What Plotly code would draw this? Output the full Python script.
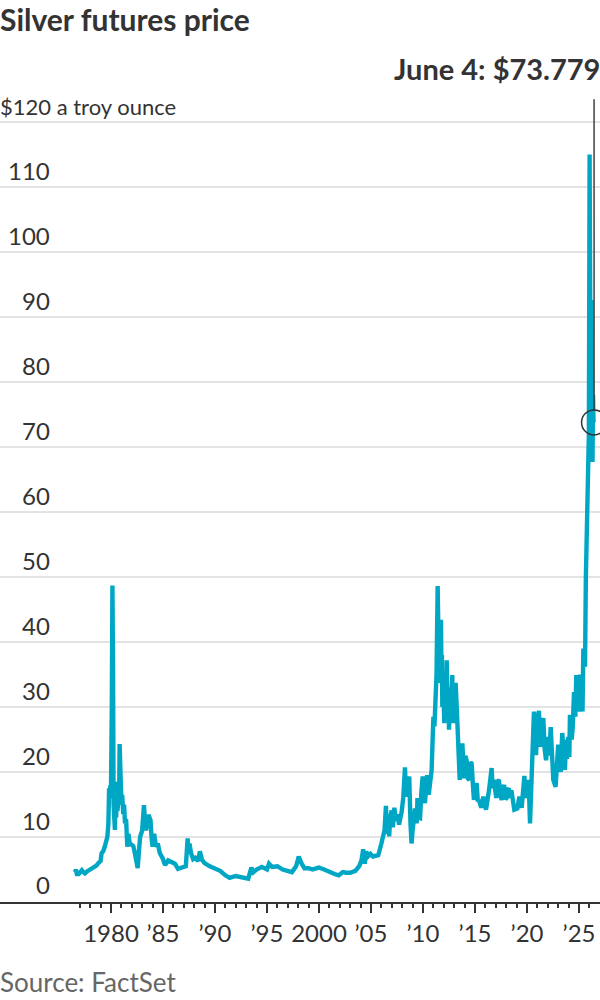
import plotly.graph_objects as go

# decimal year
years = [1976.55, 1976.62, 1976.72, 1976.9, 1977.05, 1977.2, 1977.35, 1977.5, 1977.7, 1977.9,
         1978.05, 1978.2, 1978.4, 1978.6, 1978.8, 1979.0, 1979.1, 1979.25, 1979.4, 1979.5,
         1979.65, 1979.75, 1979.82, 1979.88, 1979.95, 1980.0, 1980.08, 1980.14, 1980.2, 1980.25,
         1980.32, 1980.38, 1980.44, 1980.5, 1980.56, 1980.62, 1980.72, 1980.78, 1980.83, 1980.9, 1980.96,
         1981.0, 1981.08, 1981.18, 1981.26, 1981.35, 1981.45, 1981.57, 1981.68, 1981.8, 1982.0,
         1982.15, 1982.3, 1982.45, 1982.57, 1982.7, 1982.8, 1983.0, 1983.1, 1983.17, 1983.25, 1983.37,
         1983.6, 1983.8, 1983.9, 1984.0, 1984.15, 1984.33, 1984.5, 1984.7, 1984.95, 1985.2, 1985.5, 1985.8,
         1986.15, 1986.45, 1986.8, 1987.2, 1987.37, 1987.45, 1987.55, 1987.7, 1987.9, 1988.1, 1988.37, 1988.55,
         1988.75, 1989.0, 1989.5, 1990.0, 1990.5, 1991.0, 1991.4, 1992.0, 1992.5, 1993.0,
         1993.2, 1993.5, 1993.7, 1994.0, 1994.5, 1995.0, 1995.2, 1995.5, 1996.0, 1996.5,
         1997.0, 1997.4, 1997.8, 1998.05, 1998.3, 1998.6, 1999.0, 1999.4, 1999.8, 2000.0,
         2000.5, 2001.0, 2001.5, 2001.9, 2002.3, 2002.6, 2003.0, 2003.5, 2003.9, 2004.1,
         2004.25, 2004.4, 2004.55, 2004.7, 2004.95, 2005.2, 2005.7, 2006.0, 2006.3, 2006.44,
         2006.52, 2006.65, 2006.75, 2006.85, 2006.99, 2007.1, 2007.25, 2007.4, 2007.55, 2007.7,
         2007.95, 2008.1, 2008.27, 2008.33, 2008.47, 2008.57, 2008.68, 2008.8, 2008.9, 2009.0,
         2009.12, 2009.23, 2009.39, 2009.47, 2009.55, 2009.72, 2009.85, 2009.97, 2010.19, 2010.4,
         2010.55, 2010.67, 2010.83, 2011.0, 2011.1, 2011.2, 2011.3, 2011.41, 2011.47, 2011.52,
         2011.56, 2011.62, 2011.73, 2011.78, 2011.82, 2011.86, 2011.95, 2012.05, 2012.12, 2012.2,
         2012.28, 2012.36, 2012.43, 2012.5, 2012.58, 2012.66, 2012.74, 2012.82, 2012.88, 2012.97,
         2013.05, 2013.14, 2013.27, 2013.4, 2013.47, 2013.53, 2013.62, 2013.7, 2013.78, 2013.87,
         2013.97, 2014.08, 2014.2, 2014.32, 2014.45, 2014.57, 2014.68, 2014.8, 2014.9, 2015.03,
         2015.16, 2015.27, 2015.38, 2015.6, 2015.8, 2016.06, 2016.2, 2016.35, 2016.6, 2016.7,
         2016.8, 2017.05, 2017.18, 2017.3, 2017.43, 2017.57, 2017.7, 2017.8, 2017.93, 2018.05,
         2018.15, 2018.25, 2018.38, 2018.5, 2018.78, 2019.07, 2019.27, 2019.49, 2019.75, 2019.85,
         2019.97, 2020.16, 2020.29, 2020.38, 2020.48, 2020.58, 2020.67, 2020.77, 2020.87, 2021.0,
         2021.15, 2021.22, 2021.32, 2021.45, 2021.57, 2021.7, 2021.83, 2022.05, 2022.14, 2022.28,
         2022.4, 2022.53, 2022.75, 2022.9, 2023.0, 2023.12, 2023.24, 2023.39, 2023.52, 2023.65,
         2023.75, 2023.85, 2023.97, 2024.07, 2024.13, 2024.3, 2024.4, 2024.52, 2024.65, 2024.74,
         2024.83, 2024.93, 2025.03, 2025.15, 2025.26, 2025.34, 2025.42, 2025.58, 2025.66, 2025.74,
         2025.85, 2025.95, 2026.02, 2026.07, 2026.13, 2026.2, 2026.3, 2026.35, 2026.4, 2026.45]
prices = [4.6, 5.0, 4.3, 4.3, 4.6, 4.9, 4.6, 4.4, 4.7, 4.9,
          5.0, 5.3, 5.4, 5.6, 6.0, 6.3, 7.5, 7.8, 8.5, 9.2,
          10.0, 12.0, 17.5, 16.0, 18.0, 17.0, 30.0, 48.7, 36.0, 15.0,
          12.0, 11.1, 18.0, 13.0, 18.5, 14.0, 16.0, 15.0, 24.3, 16.0, 20.0,
          15.5, 16.5, 13.5, 15.0, 12.1, 12.8, 8.5, 10.5, 9.0, 8.8,
          8.6, 7.5, 6.5, 5.2, 8.0, 10.0, 11.0, 12.5, 14.9, 13.0, 11.0,
          13.4, 12.6, 10.0, 8.5, 10.5, 8.5, 9.0, 7.5, 6.8, 5.7, 6.4, 6.2,
          5.9, 5.1, 5.3, 5.5, 9.8, 7.5, 9.0, 7.5, 6.6, 6.8, 6.3, 7.8,
          6.5, 6.0, 5.5, 5.1, 4.8, 4.1, 3.7, 4.0, 3.9, 3.7,
          3.6, 5.3, 4.6, 5.0, 5.4, 5.0, 5.9, 5.4, 5.5, 5.0,
          4.8, 4.6, 5.5, 7.0, 6.0, 5.2, 5.2, 5.0, 5.2, 5.3,
          5.0, 4.6, 4.3, 4.1, 4.6, 4.5, 4.5, 4.8, 5.6, 6.5,
          8.1, 5.9, 7.8, 7.0, 7.4, 7.0, 7.2, 9.0, 11.0, 14.8,
          10.5, 13.5, 10.1, 13.0, 14.1, 11.5, 14.5, 12.5, 13.5, 11.9,
          13.9, 16.0, 20.7, 18.0, 16.2, 18.5, 19.3, 12.0, 9.0, 11.0,
          13.5, 14.4, 12.1, 16.0, 13.0, 12.9, 17.0, 19.3, 15.2, 19.5,
          16.5, 17.7, 20.3, 28.5, 27.0, 31.0, 35.0, 48.6, 36.0, 42.0,
          33.7, 40.0, 43.4, 34.0, 38.0, 30.0, 33.0, 27.5, 33.0, 30.0,
          37.2, 30.0, 33.0, 26.5, 31.0, 28.0, 33.0, 34.9, 27.5, 32.0,
          29.0, 33.7, 29.0, 23.1, 21.0, 18.8, 22.0, 19.5, 24.4, 20.5,
          19.0, 22.5, 21.8, 19.0, 18.8, 21.5, 21.3, 18.0, 15.7, 17.5,
          18.3, 15.5, 15.7, 14.5, 16.2, 14.2, 15.5, 17.2, 20.6, 17.5,
          18.8, 16.0, 18.5, 18.8, 16.5, 15.7, 17.5, 18.0, 15.8, 16.0,
          17.3, 17.5, 16.0, 17.2, 14.2, 14.4, 16.2, 14.5, 19.4, 16.0,
          16.7, 18.8, 12.1, 16.0, 18.8, 24.5, 29.3, 24.0, 22.6, 28.0,
          29.4, 25.0, 23.9, 27.5, 28.3, 23.5, 21.8, 25.4, 22.5, 26.9,
          23.0, 18.8, 17.7, 21.5, 24.2, 21.5, 20.0, 26.0, 22.5, 20.3,
          25.0, 22.0, 25.4, 22.3, 28.8, 25.0, 27.0, 32.3, 28.5,
          34.9, 30.0, 29.3, 34.5, 34.9, 30.5, 29.3, 39.0, 36.2, 50.0,
          55.0, 68.0, 72.0, 115.0, 76.0, 72.0, 92.6, 67.7, 78.0, 73.779]

y_ticks = [0, 10, 20, 30, 40, 50, 60, 70, 80, 90, 100, 110, 120]
x_ticks = [1980, 1985, 1990, 1995, 2000, 2005, 2010, 2015, 2020, 2025]
x_labels = ["1980", "’85", "’90", "’95", "2000", "’05", "’10", "’15", "’20", "’25"]
minor_years = list(range(1977, 2027))

last_year = years[-1]
last_price = prices[-1]

TEAL = "#00a7c4"
DARK = "#333333"
FONT = "Lato"

fig = go.Figure()
fig.add_trace(go.Scatter(x=years, y=prices, mode="lines",
                         line=dict(color=TEAL, width=4.4),
                         hoverinfo="skip"))
# leader line up to the label, and the ring on the last value
fig.add_trace(go.Scatter(x=[last_year, last_year], y=[75.7, 123.5], mode="lines",
                         line=dict(color=DARK, width=1.4), hoverinfo="skip"))
fig.add_trace(go.Scatter(x=[last_year], y=[last_price], mode="markers",
                         marker=dict(size=25, color="rgba(0,0,0,0)",
                                     line=dict(color=DARK, width=1.5)),
                         hoverinfo="skip"))

annotations = []
for t in y_ticks:
    is_top = t == 120
    annotations.append(dict(text="$120 a troy ounce" if is_top else str(t), xref="paper", yref="y",
                            x=0 if is_top else 50 / 600, y=t,
                            xanchor="left" if is_top else "right", yanchor="bottom",
                            xshift=-2 if is_top else 2,
                            yshift=0 if t else 1, showarrow=False,
                            font=dict(family=FONT, size=22 if is_top else 24, color=DARK)))
annotations.append(dict(text="<b>Silver futures price</b>", xref="paper", yref="paper",
                        x=0, y=1.0, yanchor="top", xanchor="left", xshift=-2, yshift=90 + 1,
                        showarrow=False, font=dict(family=FONT, size=30, color=DARK)))
annotations.append(dict(text="<b>June 4: $73.779</b>", xref="paper", yref="paper",
                        x=1, y=1.0, yanchor="top", xanchor="right", xshift=2, yshift=90 - 49,
                        showarrow=False, font=dict(family=FONT, size=29, color=DARK)))
annotations.append(dict(text="Source: FactSet", xref="paper", yref="paper",
                        x=0, y=0, yanchor="bottom", xanchor="left", xshift=-2, yshift=-98,
                        showarrow=False, font=dict(family=FONT, size=26, color="#666666")))

fig.update_layout(
    width=600, height=1000,
    margin=dict(l=0, r=0, t=90, b=98),
    paper_bgcolor="white", plot_bgcolor="white",
    showlegend=False,
    annotations=annotations,
    xaxis=dict(range=[1969.33, 2027.02], tickmode="array", tickvals=x_ticks, ticktext=x_labels,
               ticks="outside", ticklen=9, tickwidth=2, tickcolor=DARK,
               minor=dict(tickmode="array", tickvals=minor_years, ticks="outside",
                          ticklen=4, tickwidth=1.5, tickcolor=DARK),
               showline=True, linecolor=DARK, linewidth=2, showgrid=False, zeroline=False,
               tickfont=dict(family=FONT, size=24, color=DARK)),
    yaxis=dict(range=[0, 124.92], tickmode="array", tickvals=y_ticks, showticklabels=False,
               showgrid=True, gridcolor="#e3e3e3", gridwidth=1.5, zeroline=False),
)

# the default body margin would push the 600px figure past the window edge
fig.write_html("out.html", config={"displayModeBar": False},
               post_script="document.body.style.margin='0';")
